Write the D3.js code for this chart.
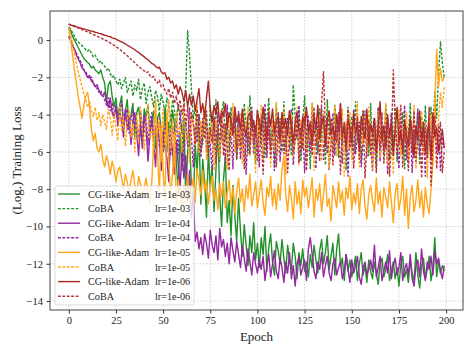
<!DOCTYPE html>
<html><head><meta charset="utf-8">
<script src="https://cdn.jsdelivr.net/npm/d3@7"></script>
<style>body{margin:0;background:#fff}svg{display:block}text{font-family:"Liberation Serif","Times New Roman",serif;fill:#222}</style>
</head><body><svg id="c" width="474" height="355"></svg>
<script>
const xTicks=[0,25,50,75,100,125,150,175,200];
const yTicks=[0,-2,-4,-6,-8,-10,-12,-14];
const labels=["CG-like-Adam","CoBA","CG-like-Adam","CoBA","CG-like-Adam","CoBA","CG-like-Adam","CoBA"];
const lrs=["lr=1e-03","lr=1e-03","lr=1e-04","lr=1e-04","lr=1e-05","lr=1e-05","lr=1e-06","lr=1e-06"];
const colors=["#23912a","#23912a","#92279f","#92279f","#ffa61a","#ffa61a","#a8282a","#b8303a"];
const dashed=[false,true,false,true,false,true,false,true];

const adam3=[0.7,0.5,0.2,0.0,-0.2,-0.4,-0.6,-0.8,-1.0,-1.1,-1.2,-1.3,-1.5,-1.4,-1.6,-1.7,-1.8,-1.6,-2.0,-2.3,
-3.3,-2.4,-2.2,-3.0,-3.6,-3.1,-4.2,-3.5,-3.0,-4.5,-3.8,-3.2,-4.8,-4.0,-3.4,-5.2,-3.9,-3.6,-4.4,-5.6,-3.7,-4.1,-3.5,-5.0,-4.3,-3.8,-5.8,-4.2,-3.9,-4.8,-5.5,-3.6,-6.0,-4.4,-4.9,-3.8,
-4.5,-6.5,-8.2,-5.0,-7.0,-4.2,-8.5,-6.0,-5.2,-7.8,-9.0,-5.5,-7.2,-4.8,-8.8,-6.4,-7.6,-9.5,-5.8,-8.0,-6.8,-9.2,-7.0,-4.6,-8.4,-10.0,-7.5,-6.2,-9.8,-8.6,-10.5,-7.8,-9.4,-10.8,-8.5,
-10.2,-11.6,-9.9,-11.0,-12.1,-10.5,-11.4,-9.8,-11.8,-10.9,-12.2,-10.6,-11.5,-10.0,-12.4,-11.1,-10.4,-11.9,-12.6,-10.8,
-11.3,-12.0,-10.7,-11.7,-12.5,-11.0,-11.8,-12.3,-10.9,-11.6,-12.8,-11.4,-12.1,-11.2,-12.4,-11.9,-12.7,-11.5,-12.2,-11.0,
-11.8,-12.5,-11.3,-10.7,-12.0,-11.4,-10.5,-12.3,-11.6,-10.9,-12.6,-11.2,-10.4,-12.1,-11.7,-12.9,-11.5,-12.4,-11.8,-12.7,
-12.2,-11.6,-12.9,-12.0,-11.4,-12.6,-12.1,-13.0,-11.8,-12.4,-12.8,-11.9,-12.5,-13.1,-12.0,-11.7,-12.7,-12.3,-11.5,-12.9,
-12.4,-11.9,-12.8,-12.2,-13.2,-12.0,-11.6,-12.7,-12.3,-13.0,-11.8,-12.5,-12.9,-11.4,-12.6,-13.3,-12.1,-11.7,-12.8,-12.3,
-11.6,-12.9,-12.2,-10.6,-12.7,-11.8,-12.5,-12.1,-12.4];
const coba3=[0.7,0.6,0.4,0.2,0.0,-0.1,-0.2,-0.3,-0.4,-0.5,-0.6,-0.5,-0.7,-0.9,-0.8,-1.0,-1.2,-1.1,-1.3,-1.4,
-1.6,-1.5,-1.8,-2.0,-1.9,-2.2,-2.4,-2.1,-2.6,-2.3,-2.0,-2.8,-2.5,-2.2,-3.0,-2.4,-2.7,-2.1,-3.2,-2.6,-2.3,-3.4,-2.8,-2.5,-3.1,-3.6,-2.7,-3.0,-3.8,-2.9,-3.3,-4.0,-3.1,-3.5,-4.4,-3.2,
-3.8,-4.6,-3.4,-4.2,-5.0,-3.6,-2.5,0.5,-0.8,-2.6,-4.2,-3.6,-5.2,-4.0,-4.6,
-5.6,-3.8,-4.4,-6.2,-3.5,-4.9,-5.8,-3.2,-4.6,-6.5,-4.0,-3.3,-5.4,-4.7,-6.0,-3.6,-5.1,-4.2,-6.4,-3.9,
-4.8,-5.9,-3.4,-4.5,-6.1,-3.0,-5.2,-4.4,-6.6,-3.7,-4.9,-5.6,-3.9,-6.3,-4.3,-3.1,-5.5,-4.7,-6.8,-3.5,
-5.0,-4.2,-6.0,-3.3,-5.7,-4.6,-3.8,-6.2,-2.4,-4.1,-5.3,-3.6,-6.5,-4.4,-3.0,-5.8,-4.8,-6.9,-3.4,-5.1,
-4.5,-6.1,-3.7,-5.4,-4.0,-6.7,-3.2,-5.0,-4.3,-5.9,-3.5,-4.8,-6.3,-3.9,-5.6,-4.6,-7.0,-3.6,-5.2,-4.1,
-6.0,-3.3,-5.5,-4.4,-6.6,-3.8,-5.1,-4.7,-6.2,-3.4,-5.8,-4.2,-6.8,-3.7,-5.3,-4.5,-6.1,-3.5,-5.0,-6.4,
-4.0,-5.7,-3.6,-6.5,-4.3,-5.4,-3.9,-6.9,-4.6,-5.2,-3.4,-6.0,-4.8,-5.5,-3.8,-6.7,-4.1,-5.9,-3.5,-6.3,
-4.4,-3.6,-5.0,-2.8,-4.2,-1.8,-0.1,-1.2,-2.0];
const adam4=[0.2,0.0,-0.3,-0.5,-0.8,-1.0,-1.2,-1.5,-1.6,-1.8,-2.0,-1.9,-2.2,-2.3,-2.5,-2.4,-2.7,-2.9,-3.0,-2.8,
-3.3,-3.6,-3.1,-3.9,-4.2,-3.5,-4.6,-3.8,-4.4,-5.2,-3.7,-4.8,-4.1,-5.6,-4.3,-3.9,-5.0,-6.2,-4.5,-5.8,-4.0,-4.7,-6.5,-5.1,-4.2,-5.5,-6.8,-4.6,-5.3,-7.0,-4.9,-5.8,-6.3,-7.6,-5.0,-6.0,
-7.2,-5.4,-6.6,-8.0,-5.8,-7.4,-6.2,-8.6,-7.0,-9.5,-8.2,
-10.8,-10.3,-11.2,-10.6,-11.5,-10.4,-10.9,-11.7,-10.2,-11.0,-11.4,-10.5,-11.8,-10.1,-11.1,-10.7,-11.6,-10.9,-12.0,-10.6,-11.3,-11.9,-10.8,-11.5,-12.2,-11.0,-11.7,-12.4,-11.2,-11.9,-12.6,-11.4,-12.0,
-12.5,-11.8,-12.3,-11.6,-12.9,-12.1,-11.5,-12.7,-12.0,-11.3,-12.4,-12.8,-11.7,-12.2,-13.0,-11.9,-12.5,-11.4,-12.8,-12.1,
-13.2,-12.0,-11.6,-12.6,-12.2,-11.8,-12.9,-11.2,-10.6,-11.5,-12.4,-12.8,-11.9,-12.3,-11.4,-12.7,-12.1,-11.6,-12.5,-12.9,
-12.0,-11.7,-12.6,-12.2,-11.9,-12.8,-12.4,-11.5,-12.3,-13.0,-11.8,-12.5,-12.1,-11.6,-12.7,-13.1,-12.2,-11.9,-12.6,-12.3,
-11.8,-12.4,-11.0,-12.7,-12.2,-11.6,-12.9,-12.4,-11.9,-12.5,-11.3,-12.8,-12.1,-11.7,-12.6,-12.2,-11.4,-12.9,-12.3,-12.0,
-12.6,-11.5,-12.8,-13.2,-12.1,-11.8,-12.7,-11.2,-12.4,-12.9,-11.9,-12.3,-11.6,-12.6,-11.3,-12.0,-11.7,-12.4,-12.8,-12.1];
const coba4=[0.2,0.0,-0.2,-0.5,-0.7,-0.9,-1.1,-1.3,-1.6,-1.7,-1.9,-2.1,-2.0,-2.3,-2.5,-2.6,-2.8,-2.7,-3.0,-3.2,
-3.5,-3.1,-3.8,-3.4,-4.1,-3.6,-4.4,-3.9,-3.3,-4.6,-4.0,-3.7,-5.0,-4.2,-3.8,-4.8,-4.3,-5.3,-3.9,-4.5,-5.0,-4.1,-5.6,-4.4,-3.9,-5.2,-4.6,-5.8,-4.2,-4.9,-6.0,-4.5,-5.3,-4.8,-6.2,-4.6,
-5.4,-4.3,-6.1,-3.8,-5.0,-6.5,-4.4,-5.7,-3.6,-5.2,-6.8,-4.6,-5.5,-4.0,-6.3,-5.1,-3.7,-6.0,-4.8,-5.6,
-7.0,-4.2,-5.4,-3.9,-6.2,-5.0,-4.5,-6.6,-3.5,-5.3,-4.7,-6.9,-4.1,-5.8,-3.8,-6.4,-5.2,-4.4,-7.2,-4.9,
-5.6,-3.6,-6.1,-4.6,-5.3,-6.8,-4.0,-5.5,-3.4,-6.3,-4.8,-5.9,-4.3,-7.0,-5.1,-3.9,-6.5,-4.7,-5.4,-6.1,
-4.2,-5.8,-3.7,-6.7,-4.9,-5.2,-3.5,-6.2,-4.5,-7.1,-5.0,-4.1,-6.0,-3.8,-5.6,-6.9,-4.4,-5.3,-3.6,-6.4,
-5.0,-4.3,-7.0,-5.5,-3.9,-6.2,-4.7,-5.8,-3.4,-6.6,-5.1,-4.5,-7.3,-4.8,-5.9,-3.7,-6.1,-5.2,-4.4,-6.8,
-5.4,-3.8,-6.3,-4.6,-5.7,-7.0,-4.2,-5.5,-3.6,-6.5,-4.9,-5.8,-4.1,-7.2,-5.3,-3.9,-6.0,-4.7,-5.6,-6.9,
-4.4,-5.9,-3.5,-6.4,-5.1,-4.3,-7.1,-4.8,-5.5,-3.7,-6.2,-5.0,-4.6,-7.3,-5.2,-4.0,-6.6,-5.7,-3.6,-6.0,
-4.5,-7.0,-5.2,-5.8];
const adam5=[0.6,0.0,-0.8,-1.6,-2.3,-3.0,-3.6,-4.2,-3.5,-3.0,-2.8,-3.6,-4.8,-5.4,-5.0,
-5.8,-6.0,-5.6,-6.4,-6.8,-6.2,-6.6,-7.2,-6.5,-6.9,-7.6,-7.0,-6.8,-7.4,-8.0,-7.2,-7.6,-8.2,-7.5,-7.0,-7.8,-8.4,-7.3,-7.7,-8.5,-7.9,-7.4,-8.2,-8.8,-7.6,
-5.5,-3.2,-6.0,-8.2,-4.5,-7.0,-8.6,-3.8,-6.4,-8.4,-7.2,-5.0,-8.8,-7.5,-8.2,-9.0,
-7.8,-8.5,-7.2,-8.9,-8.0,-7.4,-8.7,-6.9,-7.6,-8.3,-7.0,-8.1,-7.5,-8.8,-7.9,-7.3,-8.6,-8.0,-9.1,-7.7,
-8.4,-7.6,-9.0,-8.2,-7.5,-8.8,-7.9,-9.3,-8.1,-7.4,-8.7,-8.0,-9.2,-7.8,-8.5,-7.2,-8.9,-8.3,-7.6,-9.0,
-8.2,-7.5,-8.7,-9.4,-7.9,-8.4,-7.3,-8.9,-8.0,-9.1,-7.7,-8.6,-7.0,-6.2,-8.3,-9.2,-7.8,-8.5,-9.6,-7.6,
-8.8,-8.1,-9.3,-7.5,-8.4,-7.9,-9.0,-8.2,-7.4,-9.5,-8.0,-8.6,-7.7,-9.2,-8.3,-7.2,-8.9,-8.5,-9.7,-7.8,
-8.4,-9.0,-7.6,-8.7,-8.1,-9.4,-7.9,-8.5,-7.3,-9.1,-8.2,-8.8,-7.7,-9.3,-8.0,-7.5,-8.9,-9.6,-8.3,-7.8,
-8.6,-9.2,-7.4,-8.8,-8.1,-9.5,-7.9,-8.4,-9.0,-7.6,-8.7,-9.8,-8.2,-7.7,-9.1,-8.5,-7.3,-9.4,-8.0,-10.1,
-8.4,-7.8,-9.2,-8.6,-7.5,-9.0,-8.1,-9.5,-7.9,-8.8,-9.3,-8.0,-6.5,-3.5,-0.5,-2.5,-1.5,-2.2,-2.0];
const coba5=[0.7,0.3,-0.2,-0.7,-1.2,-1.7,-2.1,-2.5,-2.9,-3.2,-3.6,-3.3,-3.8,-4.1,-3.6,-4.3,-3.9,-4.6,-4.0,-4.4,
-4.8,-3.7,-4.2,-5.1,-3.9,-4.6,-5.4,-3.5,-4.9,-4.1,-5.7,-4.3,-3.8,-5.2,-4.5,-6.0,-4.0,-5.5,-3.6,-4.8,
-5.9,-4.4,-3.4,-5.3,-4.7,-6.2,-3.9,-5.0,-4.3,-6.5,-3.7,-5.6,-4.6,-3.2,-5.8,-4.2,-6.8,-3.8,-5.1,-4.5,
-6.0,-3.5,-5.4,-4.9,-6.6,-3.9,-4.6,-5.7,-3.3,-6.1,-4.4,-5.2,-3.6,-6.4,-4.8,-5.5,-3.8,-7.0,-4.3,-5.0,
-6.3,-3.7,-5.6,-4.5,-6.9,-4.0,-5.3,-3.4,-6.0,-4.7,-5.8,-3.9,-6.6,-4.2,-5.1,-3.6,-6.2,-4.8,-5.5,-7.1,
-4.1,-5.7,-3.5,-6.4,-4.6,-5.2,-3.8,-6.8,-4.4,-5.9,-3.3,-6.1,-4.9,-5.4,-3.7,-7.2,-4.5,-5.6,-4.0,-6.3,
-5.0,-3.6,-6.7,-4.3,-5.8,-3.9,-6.0,-4.7,-5.3,-3.4,-7.0,-4.8,-5.5,-4.1,-6.5,-3.8,-5.2,-4.6,-6.9,-4.2,
-5.7,-3.5,-6.2,-4.9,-5.4,-3.7,-7.3,-4.4,-5.9,-3.9,-6.4,-4.6,-5.1,-3.3,-6.8,-4.7,-5.6,-4.0,-6.1,-3.6,
-5.3,-7.0,-4.3,-5.8,-3.8,-6.3,-4.5,-5.5,-3.4,-6.7,-4.8,-5.0,-7.2,-4.1,-5.9,-3.7,-6.2,-4.6,-5.4,-3.9,
-6.5,-4.2,-5.7,-3.5,-6.9,-4.9,-5.2,-3.8,-6.0,-4.4,-7.4,-5.1,-4.0,-6.6,-3.2,-5.5,-4.3,-2.8,-3.6,-2.5];
const adam6=[0.85,0.82,0.78,0.76,0.72,0.68,0.66,0.62,0.60,0.56,0.55,0.50,0.48,0.46,0.42,0.40,0.36,0.34,0.30,0.26,
0.24,0.20,0.18,0.12,0.10,0.05,0.0,-0.05,-0.10,-0.15,-0.20,-0.28,-0.32,-0.40,-0.45,-0.52,-0.60,-0.66,-0.75,-0.82,
-0.9,-1.0,-1.05,-1.15,-1.25,-1.3,-1.4,-1.5,-1.45,-1.7,-1.8,-1.75,-2.1,-2.0,-2.3,-2.2,-2.6,-2.4,-2.9,-2.5,
-2.8,-3.3,-2.7,-3.6,-2.9,-3.5,-3.0,-3.8,-3.2,-2.6,-3.9,-3.4,-4.2,-3.1,-2.2,-3.7,-4.4,-3.5,-4.0,-3.3,
-4.5,-3.8,-4.1,-3.4,-4.7,-3.9,-4.3,-5.0,-3.6,-4.4,-4.0,-4.8,-3.7,-4.6,-5.2,-4.1,-3.9,-4.7,-4.3,-5.1,
-3.8,-4.5,-4.9,-3.6,-4.2,-5.3,-4.0,-4.6,-3.7,-5.0,-4.4,-4.1,-5.4,-3.9,-4.7,-4.2,-5.1,-3.8,-4.6,-5.5,
-4.3,-3.9,-4.9,-5.2,-4.1,-4.6,-3.6,-5.0,-4.4,-5.6,-4.0,-4.8,-3.5,-5.3,-4.5,-4.1,-5.7,-4.3,-3.8,-5.1,
-4.6,-5.4,-4.0,-4.9,-3.4,-5.2,-4.5,-5.8,-4.2,-4.7,-5.5,-3.9,-5.0,-4.4,-5.9,-4.1,-4.8,-5.3,-3.7,-5.6,
-4.5,-5.0,-4.2,-6.0,-4.7,-3.3,-5.4,-4.6,-5.8,-4.0,-5.2,-4.4,-6.2,-4.8,-3.6,-5.5,-4.9,-6.0,-4.3,-5.1,
-5.7,-4.2,-4.9,-6.3,-4.6,-5.3,-3.8,-5.6,-4.4,-6.1,-5.0,-4.5,-6.4,-3.9,-5.2,-4.7,-6.0,-5.4,-4.8,-5.8];
const coba6=[0.85,0.80,0.76,0.72,0.68,0.64,0.60,0.56,0.52,0.48,0.44,0.40,0.35,0.30,0.26,0.22,0.16,0.12,0.06,0.02,
-0.04,-0.10,-0.16,-0.22,-0.28,-0.35,-0.42,-0.50,-0.58,-0.66,-0.75,-0.84,-0.94,-1.04,-1.12,-1.22,-1.32,-1.40,-1.50,-1.58,
-1.65,-1.75,-1.7,-1.9,-2.0,-1.95,-2.2,-2.3,-2.15,-2.5,-2.4,-2.7,-2.9,-2.6,-3.1,-2.8,-3.4,-3.0,-3.7,-3.2,
-4.0,-3.4,-4.6,-3.6,-5.2,-3.9,-4.4,-5.6,-3.7,-4.9,-6.0,-4.2,-5.3,-3.8,-6.3,-4.7,-5.5,-4.1,-6.6,-4.8,
-5.4,-3.9,-6.2,-4.5,-5.8,-7.0,-4.3,-5.1,-3.6,-6.4,-4.9,-5.7,-4.0,-6.9,-5.2,-4.4,-6.1,-3.8,-5.6,-4.7,
-6.5,-4.2,-5.3,-7.2,-4.6,-5.9,-3.7,-6.3,-5.0,-4.4,-6.8,-4.9,-5.5,-3.9,-6.1,-4.6,-7.1,-5.2,-4.3,-6.0,
-5.4,-3.8,-6.6,-4.7,-5.8,-4.1,-7.0,-5.0,-4.5,-6.2,-3.6,-5.7,-4.8,-6.5,-3.4,-1.7,-4.6,-6.1,-5.3,-4.2,
-6.7,-4.9,-5.5,-3.9,-7.2,-5.1,-4.4,-6.0,-3.7,-5.8,-4.6,-6.9,-5.2,-4.1,-6.4,-5.0,-3.8,-7.4,-5.6,-4.3,
-6.2,-4.8,-5.4,-7.1,-4.5,-5.9,-3.9,-6.6,-5.1,-4.4,-7.3,-5.7,-1.6,-4.2,-6.1,-5.3,-3.5,-6.8,-4.9,-5.6,
-7.0,-4.6,-6.0,-3.8,-6.5,-5.2,-4.3,-7.4,-5.0,-4.7,-6.3,-3.6,-7.8,-5.5,-4.1,-6.9,-5.4,-4.4,-7.1,-6.0];
const series=[adam3,coba3,adam4,coba4,adam5,coba5,adam6,coba6];

const svg=d3.select("#c");
const L=50,R=463,T=11,B=310;
const x=d3.scaleLinear().domain([-9.95,208.95]).range([L,R]);
const y=d3.scaleLinear().domain([-14.48,1.56]).range([B,T]);
const fmt=d=>d<0?"\u2212"+Math.abs(d):String(d);

// grid
const g=svg.append("g");
g.selectAll(".gx").data(xTicks).join("line").attr("x1",d=>x(d)).attr("x2",d=>x(d)).attr("y1",T).attr("y2",B)
 .attr("stroke","#c8c8c8").attr("stroke-width",0.8).attr("stroke-dasharray","1.5,1.5");
g.selectAll(".gy").data(yTicks).join("line").attr("x1",L).attr("x2",R).attr("y1",d=>y(d)).attr("y2",d=>y(d))
 .attr("stroke","#c8c8c8").attr("stroke-width",0.8).attr("stroke-dasharray","1.5,1.5");

// lines
svg.append("defs").append("clipPath").attr("id","clip").append("rect").attr("x",L).attr("y",T).attr("width",R-L).attr("height",B-T);
const line=d3.line().x((d,i)=>x(i)).y(d=>y(d));
const lg=svg.append("g").attr("clip-path","url(#clip)");
series.forEach((s,k)=>{
 lg.append("path").attr("d",line(s)).attr("fill","none").attr("stroke",colors[k]).attr("stroke-width",1.4)
  .attr("stroke-linejoin","round").attr("stroke-dasharray",dashed[k]?"2.8,1.6":null);
});

// axes
const ax=svg.append("g").attr("transform",`translate(0,${B})`).call(d3.axisBottom(x).tickValues(xTicks).tickSize(3.5).tickPadding(3.5).tickFormat(fmt));
const ay=svg.append("g").attr("transform",`translate(${L},0)`).call(d3.axisLeft(y).tickValues(yTicks).tickSize(3.5).tickPadding(3.5).tickFormat(fmt));
[ax,ay].forEach(a=>{a.select(".domain").remove();a.selectAll("line").attr("stroke","#333");a.selectAll("text").attr("font-size",10.5).attr("fill","#222").style("font-family","'Liberation Serif',serif");});
svg.append("rect").attr("x",L).attr("y",T).attr("width",R-L).attr("height",B-T).attr("fill","none").attr("stroke","#444").attr("stroke-width",1);

svg.append("text").attr("x",(L+R)/2).attr("y",341).attr("text-anchor","middle").attr("font-size",13).text("Epoch");
svg.append("text").attr("transform",`translate(21,${(T+B)/2}) rotate(-90)`).attr("text-anchor","middle").attr("font-size",13).text("(Log.) Training Loss");

// legend
const leg=svg.append("g");
leg.append("rect").attr("x",55).attr("y",186).attr("width",139).attr("height",119).attr("rx",2.5)
 .attr("fill","#fff").attr("fill-opacity",0.8).attr("stroke","#d4d4d4").attr("stroke-width",0.8);
labels.forEach((lab,i)=>{
 const yy=194+i*14.6;
 leg.append("line").attr("x1",58).attr("x2",80).attr("y1",yy).attr("y2",yy).attr("stroke",colors[i]).attr("stroke-width",1.4)
  .attr("stroke-dasharray",dashed[i]?"2.8,1.6":null);
 leg.append("text").attr("x",88).attr("y",yy).attr("dy","0.35em").attr("font-size",10.2).text(lab);
 leg.append("text").attr("x",155).attr("y",yy).attr("dy","0.35em").attr("font-size",10.2).text(lrs[i]);
});
</script></body></html>
